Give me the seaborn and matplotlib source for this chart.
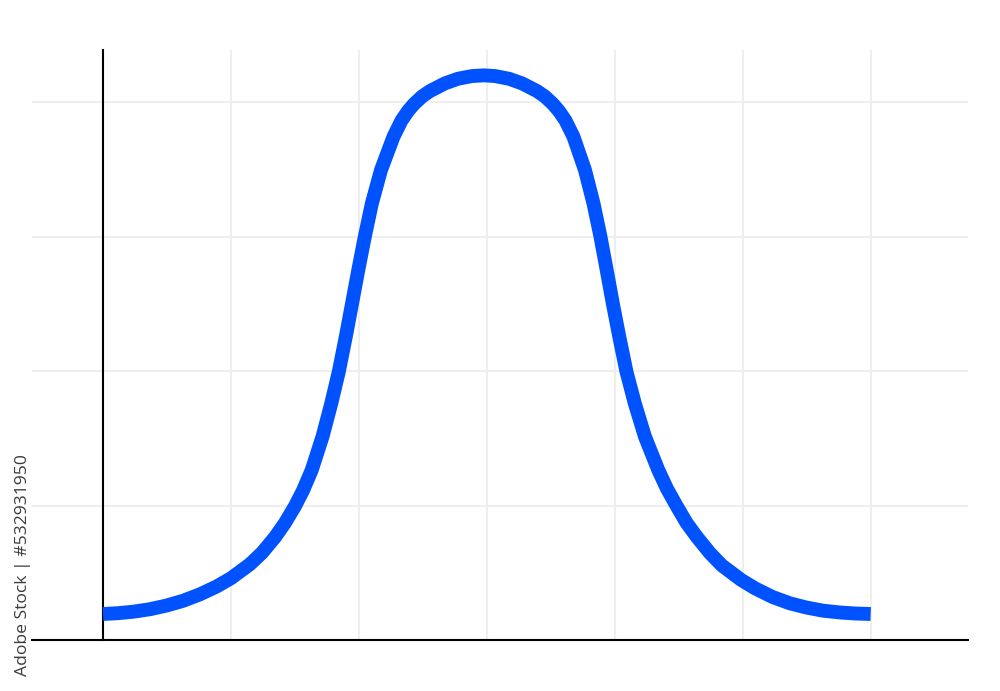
import matplotlib
matplotlib.use("Agg")
import matplotlib.pyplot as plt
import seaborn as sns
import pandas as pd

# curve points (x and y in grid units)
curve_x = [0.0000, 0.1172, 0.2367, 0.3672, 0.4977, 0.6250, 0.7578, 0.8906, 1.0000,
           1.1484, 1.2422, 1.3438, 1.4219, 1.5000, 1.5625, 1.6305, 1.7148, 1.7836,
           1.8422, 1.8969, 1.9461, 1.9945, 2.0453, 2.1008, 2.1719, 2.2695, 2.3320,
           2.3828, 2.4297, 2.4922, 2.5547, 2.6719, 2.7734, 2.8828, 2.9766,
           3.0625, 3.1719, 3.2734, 3.3906, 3.4531, 3.5156, 3.5625, 3.6133, 3.6758,
           3.7656, 3.8320, 3.8867, 3.9352, 3.9828, 4.0336, 4.0898, 4.1547, 4.2344,
           4.3383, 4.4063, 4.4805, 4.5594, 4.6383, 4.7414, 4.8359, 4.9867, 5.0969,
           5.2313, 5.3656, 5.4945, 5.6266, 5.7586, 5.8789, 5.9977]
curve_y = [0.1933, 0.1993, 0.2104, 0.2290, 0.2565, 0.2914, 0.3398, 0.3993, 0.4595,
           0.5636, 0.6483, 0.7643, 0.8706, 0.9955, 1.1115, 1.2632, 1.5115, 1.7599,
           1.9948, 2.2550, 2.5033, 2.7509, 2.9985, 3.2468, 3.4944, 3.7420, 3.8625,
           3.9331, 3.9851, 4.0409, 4.0818, 4.1390, 4.1732, 4.1933, 4.1985,
           4.1933, 4.1732, 4.1390, 4.0818, 4.0409, 3.9851, 3.9331, 3.8625, 3.7420,
           3.4944, 3.2468, 2.9985, 2.7509, 2.5033, 2.2550, 1.9948, 1.7599, 1.5115,
           1.2639, 1.1249, 0.9985, 0.8706, 0.7680, 0.6468, 0.5539, 0.4461, 0.3829,
           0.3197, 0.2729, 0.2416, 0.2178, 0.2045, 0.1970, 0.1933]

x_grid = [1, 2, 3, 4, 5, 6]
y_grid = [1, 2, 3, 4]

watermark = "Adobe Stock | #532931950"

df = pd.DataFrame({"x": curve_x, "y": curve_y})

sns.set_style("white")
plt.rcParams["font.family"] = ["Open Sans", "DejaVu Sans"]

fig = plt.figure(figsize=(10, 6.91), dpi=100)
ax = fig.add_axes([0.032, 51 / 691, 0.936, 590 / 691])

sns.lineplot(data=df, x="x", y="y", ax=ax, color="#0052FF", linewidth=10,
             solid_capstyle="butt", solid_joinstyle="round", zorder=3)

ax.set_xlim(-0.5547, 6.758)
ax.set_ylim(0, 4.387)
ax.set_xticks(x_grid)
ax.set_yticks(y_grid)
ax.set_xticklabels([])
ax.set_yticklabels([])
ax.tick_params(length=0)
ax.set_xlabel("")
ax.set_ylabel("")
ax.grid(True, color="#EEEEEE", linewidth=1.5, zorder=0)
ax.set_axisbelow(True)

for side in ["top", "right"]:
    ax.spines[side].set_visible(False)
ax.spines["left"].set_position(("data", 0))
ax.spines["left"].set_color("black")
ax.spines["left"].set_linewidth(1.5)
ax.spines["bottom"].set_color("black")
ax.spines["bottom"].set_linewidth(1.5)

fig.text(0.023, 1 - 565 / 691, watermark, rotation=90, ha="center", va="center",
         fontsize=12.6, color="#3C3C3C")

fig.savefig("out.png", dpi=100, facecolor="white")
plt.close(fig)
